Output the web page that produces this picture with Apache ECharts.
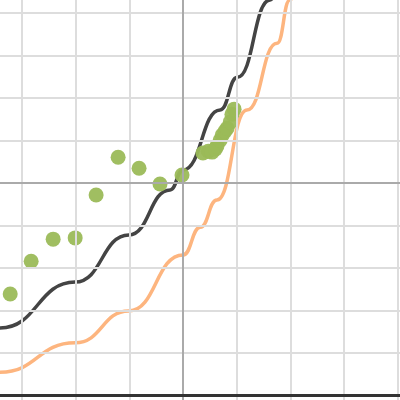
<!DOCTYPE html>
<html><head><meta charset="utf-8">
<script src="https://cdn.jsdelivr.net/npm/echarts@6/dist/echarts.min.js"></script>
<style>html,body{margin:0;padding:0;background:#fff}#c{width:400px;height:400px}</style>
</head><body><div id="c"></div>
<script>
const pointsX = [-3.22,-2.83,-2.42,-2.01,-1.62,-1.21,-0.82,-0.43,-0.02,0.37,0.47,0.54,0.60,0.63,0.69,0.73,0.78,0.82,0.88,0.91,0.95];
const pointsY = [-2.61,-1.84,-1.32,-1.29,-0.28,0.61,0.35,-0.02,0.19,0.71,0.75,0.73,0.80,0.87,1.01,1.13,1.22,1.29,1.44,1.62,1.74];
const blackX = [-3.6,-3.41,-2.01,-1.01,-0.24,0,0.69,1.01,1.62,1.85];
const blackY = [-3.5,-3.41,-2.33,-1.22,-0.16,0.31,1.72,2.49,4.31,5.1];
const orangeX = [-3.6,-3.41,-2.01,-1.01,0,0.32,0.63,1.19,1.75,1.99,2.2];
const orangeY = [-4.5,-4.45,-3.76,-3.01,-1.69,-1.04,-0.40,1.72,3.29,4.31,5.2];
const gridX = [-3,-2,-1,1,2,3,4];
const gridY = [4,3,2,1,-1,-2,-3,-4];
const zip=(a,b)=>a.map((v,i)=>[v,b[i]]);
const g={color:'#dddddd',width:2,type:'solid'};
const lines=[].concat(
  gridX.map(v=>({xAxis:v,lineStyle:g})),
  gridY.map(v=>({yAxis:v,lineStyle:g})),
  [{xAxis:0,lineStyle:{color:'#aaaaaa',width:2,type:'solid'}},{yAxis:0,lineStyle:{color:'#aaaaaa',width:2,type:'solid'}},
   {yAxis:-5,lineStyle:{color:'#333333',width:3,type:'solid'}}]);
const chart=echarts.init(document.getElementById('c'));
chart.setOption({
  animation:false,
  grid:{left:0,top:0,right:0,bottom:0,containLabel:false},
  xAxis:{type:'value',min:-3.41,max:4.04,axisLine:{show:false},axisTick:{show:false},axisLabel:{show:false},splitLine:{show:false}},
  yAxis:{type:'value',min:-5.106,max:4.31,axisLine:{show:false},axisTick:{show:false},axisLabel:{show:false},splitLine:{show:false}},
  series:[
    {type:'line',data:[],silent:true,markLine:{symbol:'none',silent:true,label:{show:false},data:lines}},
    {type:'line',data:zip(orangeX,orangeY),smooth:0.5,smoothMonotone:'x',showSymbol:false,lineStyle:{color:'#fdb57f',width:3.5},z:3},
    {type:'line',data:zip(blackX,blackY),smooth:0.5,smoothMonotone:'x',showSymbol:false,lineStyle:{color:'#444444',width:3.5},z:3},
    {type:'scatter',data:zip(pointsX,pointsY),symbolSize:15,itemStyle:{color:'#9bbb59',opacity:0.95},z:4}
  ]
});
</script></body></html>
